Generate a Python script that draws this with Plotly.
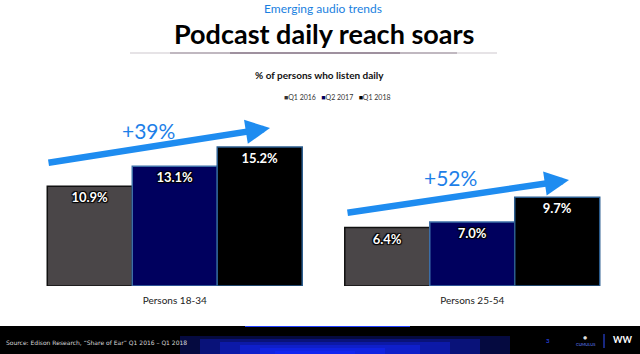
import plotly.graph_objects as go

categories = ["Persons 18-34", "Persons 25-54"]
series_names = ["Q1 2016", "Q2 2017", "Q1 2018"]
q1_2016 = [10.9, 6.4]
q2_2017 = [13.1, 7.0]
q1_2018 = [15.2, 9.7]
growth_labels = ["+39%", "+52%"]

colors = ["#4a4648", "#00005e", "#000000"]
line_colors = ["#111111", "#3d6fa8", "#2b5d8f"]

W, H = 640, 354
L, R, T, B = 26, 19, 110, 68
pw, ph = W - L - R, H - T - B


def px(X):
    return (X - L) / pw


def py(Y):
    return (H - B - Y) / ph


fig = go.Figure()
for name, vals, c, lc in zip(series_names, [q1_2016, q2_2017, q1_2018], colors, line_colors):
    fig.add_trace(go.Bar(
        x=categories, y=vals, name=name,
        marker=dict(color=c, line=dict(color=lc, width=1.5)),
        texttemplate="%{y:.1f}%", textposition="inside", insidetextanchor="end",
        textfont=dict(color="white", size=13, family="Lato", weight="bold",
                      shadow="1px 1px 1px #000, -1px -1px 1px #000, 1px -1px 1px #000, -1px 1px 1px #000"),
        cliponaxis=False,
    ))

shapes = []
# title underline (soft gradient)
for x0, x1, col, w in [(130, 497, "rgba(205,200,205,0.5)", 2),
                       (170, 457, "rgba(175,165,175,0.7)", 2),
                       (230, 400, "rgba(150,135,150,0.8)", 2)]:
    shapes.append(dict(type="line", xref="paper", yref="paper", x0=px(x0), x1=px(x1),
                       y0=py(53), y1=py(53), line=dict(color=col, width=w)))
# footer band
shapes.append(dict(type="rect", xref="paper", yref="paper", x0=px(0), x1=px(640),
                   y0=py(354), y1=py(326), fillcolor="#000000", line=dict(width=0), layer="above"))
for x0, x1, y0, op in [(180, 510, 336, 0.25), (200, 480, 339, 0.3), (220, 450, 342, 0.35),
                       (240, 420, 345, 0.4), (260, 385, 348, 0.45), (275, 355, 351, 0.5)]:
    shapes.append(dict(type="rect", xref="paper", yref="paper", x0=px(x0), x1=px(x1),
                       y0=py(354), y1=py(y0), fillcolor="rgba(20,40,255,%s)" % op,
                       line=dict(width=0), layer="above"))
shapes.append(dict(type="line", xref="paper", yref="paper", x0=px(245), x1=px(410),
                   y0=py(326.5), y1=py(326.5), line=dict(color="#2040ff", width=1), layer="above"))
shapes.append(dict(type="line", xref="paper", yref="paper", x0=px(604), x1=px(604),
                   y0=py(348), y1=py(334), line=dict(color="#3050ff", width=1), layer="above"))

ann = []


def txt(text, X, Y, size, color, family="Lato", xanchor="center"):
    return dict(text=text, x=px(X), y=py(Y), xref="paper", yref="paper", showarrow=False,
                xanchor=xanchor, yanchor="middle", font=dict(family=family, size=size, color=color))


ann.append(txt("Emerging audio trends", 323, 8, 12, "#1a7fe0"))
ann.append(txt("<b>Podcast daily reach soars</b>", 324, 33, 27, "#000000"))
ann.append(txt("<b>% of persons who listen daily</b>", 319, 75, 10, "#111111"))
legend_txt = "&nbsp;&nbsp;&nbsp;".join(
    f"<span style='color:{'#333333' if i == 0 else c}'>■</span>{n}" for i, (n, c) in enumerate(zip(series_names, colors)))
ann.append(txt(legend_txt, 337, 97, 7, "#333333"))
# growth arrows
for (tail, tip, lab_pos), lab in zip([((47, 163), (270, 128), (148, 130)),
                                       ((346, 213), (569, 180), (450, 177))], growth_labels):
    ann.append(dict(text="", x=px(tip[0]), y=py(tip[1]), xref="paper", yref="paper",
                    ax=tail[0] - tip[0], ay=tail[1] - tip[1], showarrow=True,
                    arrowhead=2, arrowsize=0.75, arrowwidth=6.5, arrowcolor="#1e8cf0"))
    ann.append(txt(lab, lab_pos[0], lab_pos[1], 21, "#1e7fe8"))
ann.append(txt("Source: Edison Research, “Share of Ear” Q1 2016 – Q1 2018", 4, 342, 6, "#d8d8d8",
               family="DejaVu Sans", xanchor="left"))
ann.append(txt("3", 548, 340, 6, "#3050ff"))
ann.append(txt("●", 585, 337, 7, "#dddddd"))
ann.append(txt("CUMULUS", 585, 344, 4, "#6080ff"))
ann.append(txt("<b>WW</b>", 622, 339, 9, "#ffffff"))

fig.update_layout(
    width=W, height=H, margin=dict(l=L, r=R, t=T, b=B),
    paper_bgcolor="white", plot_bgcolor="white",
    barmode="group", bargap=0.143, bargroupgap=0,
    showlegend=False,
    xaxis=dict(showgrid=False, showline=False, ticks="", ticklabelstandoff=7,
               tickfont=dict(family="Lato", size=10, color="#222222")),
    yaxis=dict(range=[0, ph / 9.14], visible=False, showgrid=False),
    shapes=shapes, annotations=ann,
    uniformtext=dict(minsize=8, mode="show"),
)

fig.write_html("out.html")
